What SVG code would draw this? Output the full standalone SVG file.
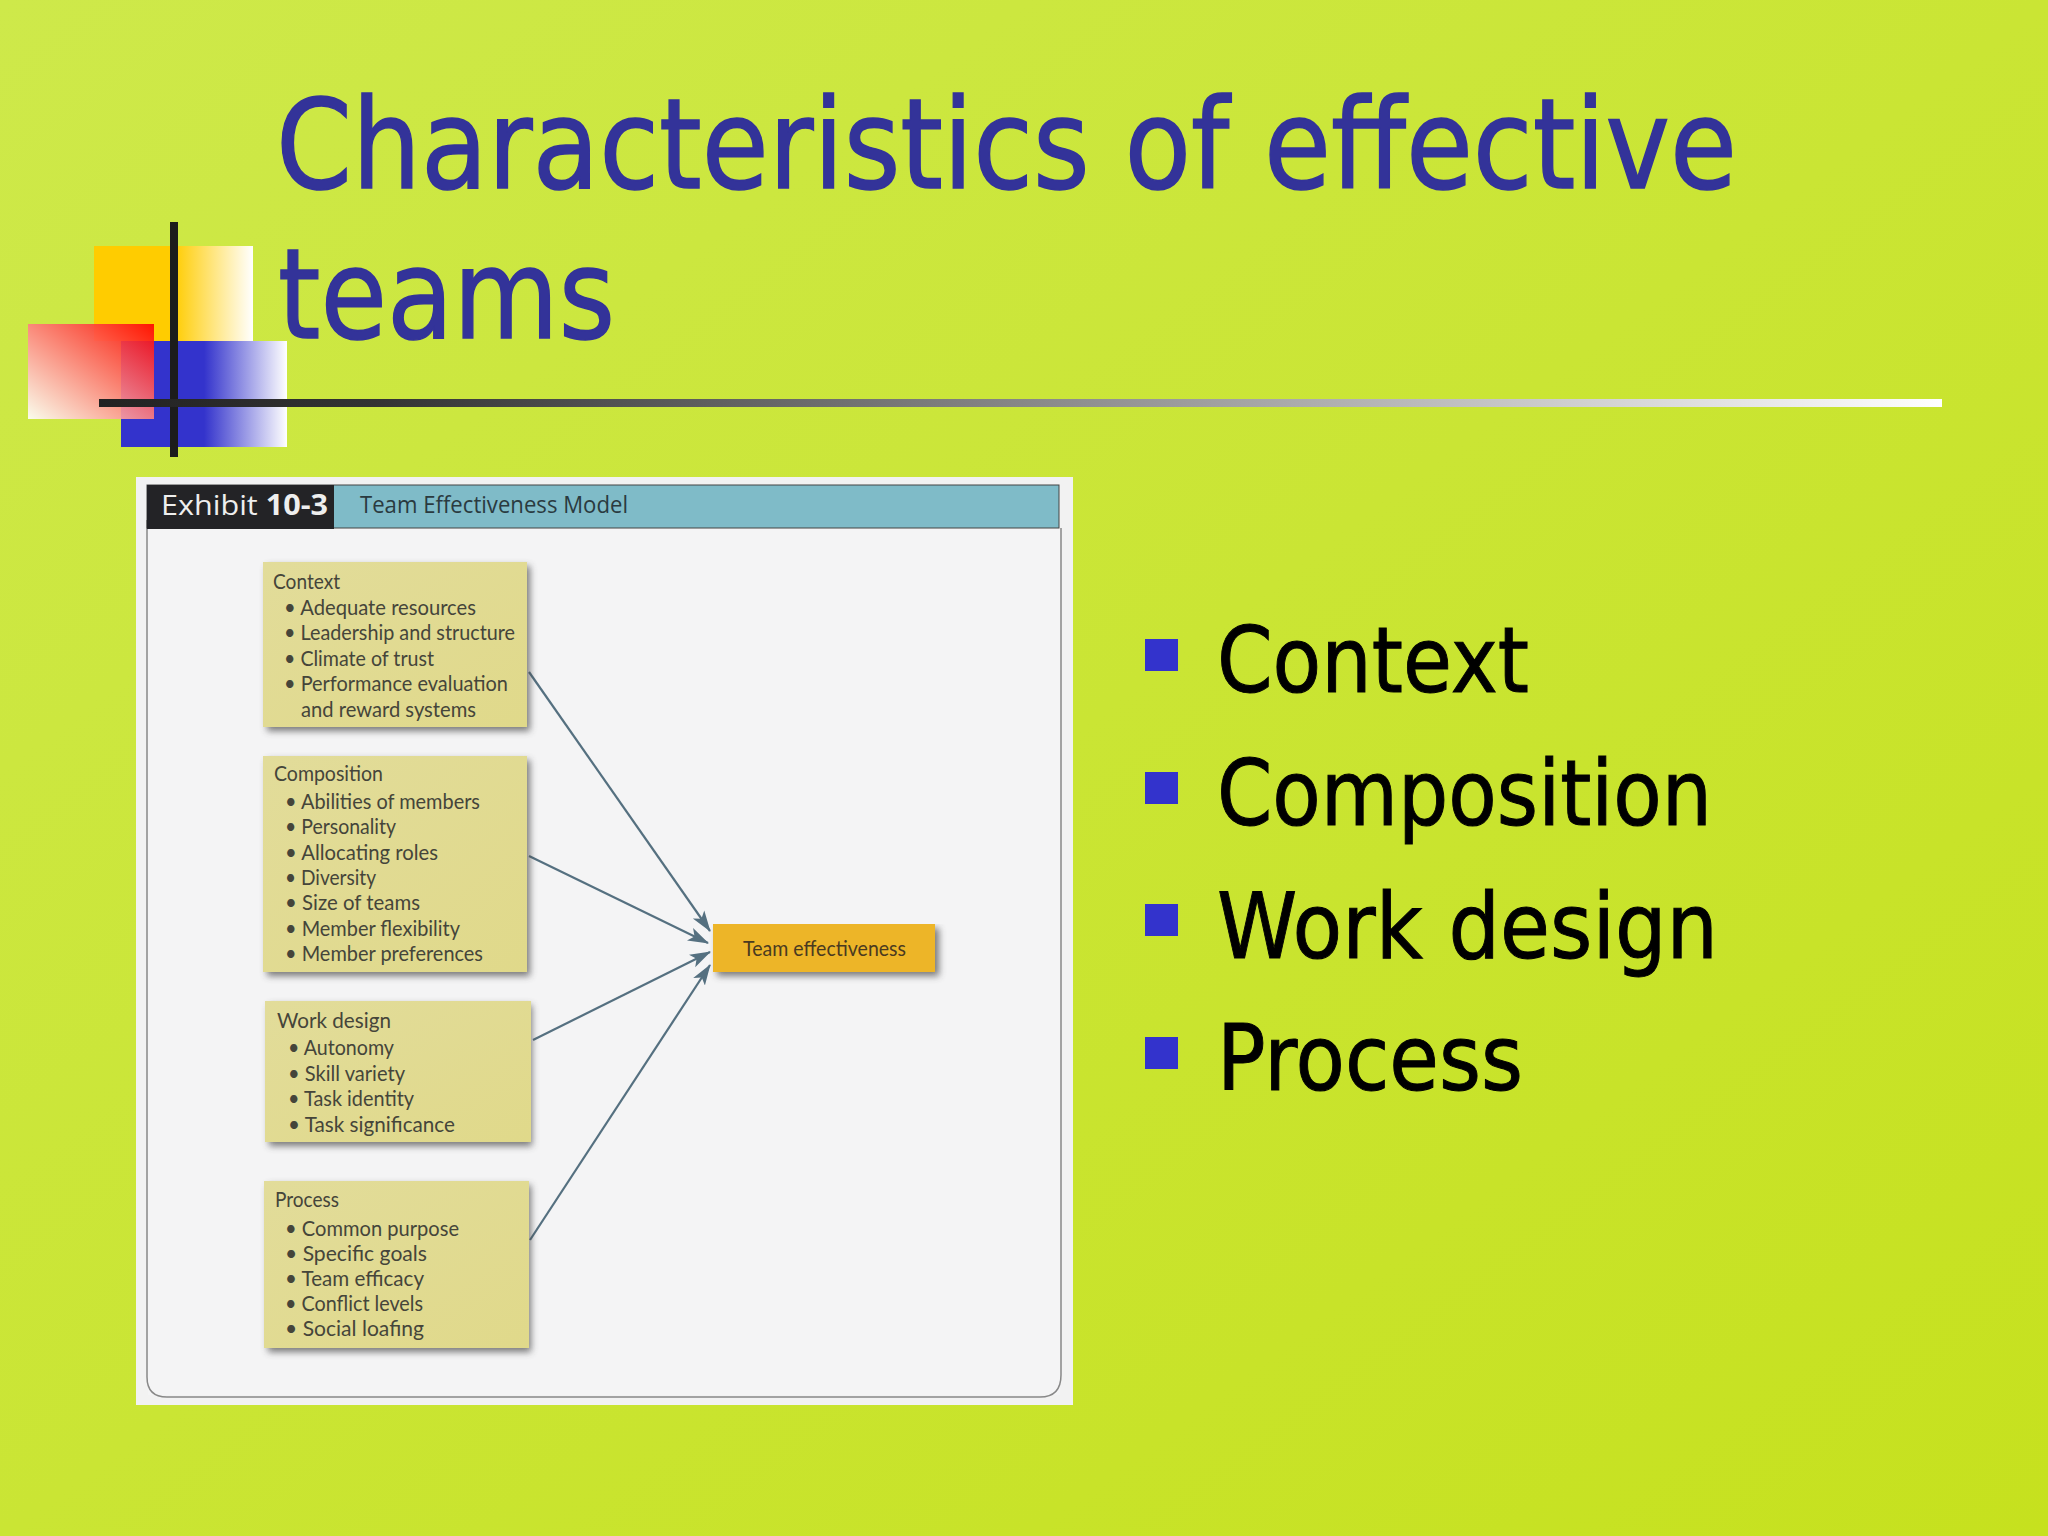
<svg xmlns="http://www.w3.org/2000/svg" width="2048" height="1536" viewBox="0 0 2048 1536">
<defs>
<linearGradient id="bg" x1="0" y1="0" x2="1" y2="1"><stop offset="0" stop-color="#cee94a"/><stop offset="1" stop-color="#c6e11e"/></linearGradient>
<linearGradient id="yl" x1="0" x2="1" y1="0" y2="0"><stop offset="0" stop-color="#ffcc00"/><stop offset=".5" stop-color="#ffcc00"/><stop offset="1" stop-color="#fff"/></linearGradient>
<linearGradient id="bl" x1="0" x2="1" y1="0" y2="0"><stop offset="0" stop-color="#3333cc"/><stop offset=".5" stop-color="#3333cc"/><stop offset="1" stop-color="#fff"/></linearGradient>
<linearGradient id="rd" x1="1" y1="0" x2="0" y2="1"><stop offset="0" stop-color="#ff0000"/><stop offset="1" stop-color="#fff"/></linearGradient>
<linearGradient id="ln" x1="0" x2="1" y1="0" y2="0"><stop offset="0" stop-color="#222"/><stop offset=".15" stop-color="#333"/><stop offset="1" stop-color="#fff"/></linearGradient>
<linearGradient id="by" x1="0" x2="1" y1="0" y2="1"><stop offset="0" stop-color="#e2dc9a"/><stop offset="1" stop-color="#e0d98a"/></linearGradient>
<filter id="sh" x="-8%" y="-8%" width="116%" height="125%"><feGaussianBlur stdDeviation="3.5"/></filter>
<marker id="ah" markerWidth="22" markerHeight="16" refX="20" refY="8" orient="auto" markerUnits="userSpaceOnUse"><path d="M0 1L21 8L0 15L5 8Z" fill="#557080"/></marker>
</defs>
<style>
.h{font-family:"DejaVu Sans","Noto Sans",sans-serif;fill:#333399;stroke:#333399;stroke-width:1.5;font-size:124px}
.b{font-family:"DejaVu Sans","Noto Sans",sans-serif;fill:#000;stroke:#000;stroke-width:1;font-size:91px}
.n{font-family:"Lato","Open Sans",sans-serif;fill:#45453a;font-size:22px}
.box{fill:url(#by)}
.sd{fill:#444;opacity:.7;filter:url(#sh)}
.c{stroke:#557080;stroke-width:2.2;fill:none;marker-end:url(#ah)}
.sq{fill:#3333cc}
</style>
<rect width="2048" height="1536" fill="url(#bg)"/>
<g id="decor">
<rect x="94" y="246" width="159" height="95" fill="url(#yl)"/>
<rect x="121" y="341" width="166" height="106" fill="url(#bl)"/>
<rect x="28" y="324" width="126" height="95" fill="url(#rd)" opacity=".9"/>
<rect x="170" y="222" width="8" height="235" fill="#1c1c1c"/>
<rect x="99" y="399" width="1843" height="8" fill="url(#ln)"/>
</g>
<text class="h" x="276" y="188" textLength="1461" lengthAdjust="spacingAndGlyphs">Characteristics of effective</text>
<text class="h" x="278" y="338" textLength="337" lengthAdjust="spacingAndGlyphs">teams</text>
<g id="exhibit">
<rect x="136" y="477" width="937" height="928" fill="#f2f2f2"/>
<rect x="148" y="529" width="912" height="866" fill="#f4f4f5"/>
<path d="M147 520V1377Q147 1397 167 1397H1040Q1061 1397 1061 1375V528" fill="none" stroke="#888" stroke-width="1.5"/>
<rect x="147" y="485" width="912" height="43" fill="#7fbbc8" stroke="#444" stroke-width="1"/>
<rect x="147" y="485" width="187" height="44" fill="#232326"/>
<text x="161" y="515" font-family="Open Sans,sans-serif" font-size="28" fill="#eee" textLength="167" lengthAdjust="spacingAndGlyphs">Exhibit <tspan font-weight="700">10-3</tspan></text>
<text x="360" y="513" font-family="Open Sans,sans-serif" font-size="24" fill="#2a3a40" textLength="268" lengthAdjust="spacingAndGlyphs">Team Effectiveness Model</text>
</g>
<g id="connectors">
<line class="c" x1="529" y1="672" x2="710" y2="931"/>
<line class="c" x1="529" y1="856" x2="708" y2="943"/>
<line class="c" x1="533" y1="1040" x2="710" y2="952"/>
<line class="c" x1="530" y1="1240" x2="710" y2="965"/>
</g>
<g id="node-context">
<rect class="sd" x="267" y="566" width="263" height="165"/><rect class="box" x="263" y="562" width="264" height="165"/>
<text class="n" x="273" y="589" textLength="67" lengthAdjust="spacingAndGlyphs">Context</text>
<text class="n" x="284" y="615" textLength="192" lengthAdjust="spacingAndGlyphs">• Adequate resources</text>
<text class="n" x="284" y="640" textLength="231" lengthAdjust="spacingAndGlyphs">• Leadership and structure</text>
<text class="n" x="284" y="666" textLength="150" lengthAdjust="spacingAndGlyphs">• Climate of trust</text>
<text class="n" x="284" y="691" textLength="224" lengthAdjust="spacingAndGlyphs">• Performance evaluation</text>
<text class="n" x="301" y="717" textLength="175" lengthAdjust="spacingAndGlyphs">and reward systems</text>
</g>
<g id="node-composition">
<rect class="sd" x="267" y="760" width="263" height="216"/><rect class="box" x="263" y="756" width="264" height="216"/>
<text class="n" x="274" y="781" textLength="109" lengthAdjust="spacingAndGlyphs">Composition</text>
<text class="n" x="285" y="809" textLength="195" lengthAdjust="spacingAndGlyphs">• Abilities of members</text>
<text class="n" x="285" y="834" textLength="111" lengthAdjust="spacingAndGlyphs">• Personality</text>
<text class="n" x="285" y="860" textLength="153" lengthAdjust="spacingAndGlyphs">• Allocating roles</text>
<text class="n" x="285" y="885" textLength="91" lengthAdjust="spacingAndGlyphs">• Diversity</text>
<text class="n" x="285" y="910" textLength="135" lengthAdjust="spacingAndGlyphs">• Size of teams</text>
<text class="n" x="285" y="936" textLength="175" lengthAdjust="spacingAndGlyphs">• Member flexibility</text>
<text class="n" x="285" y="961" textLength="198" lengthAdjust="spacingAndGlyphs">• Member preferences</text>
</g>
<g id="node-work-design">
<rect class="sd" x="269" y="1005" width="263" height="141"/><rect class="box" x="265" y="1001" width="266" height="141"/>
<text class="n" x="277" y="1028" textLength="114" lengthAdjust="spacingAndGlyphs">Work design</text>
<text class="n" x="288" y="1055" textLength="106" lengthAdjust="spacingAndGlyphs">• Autonomy</text>
<text class="n" x="288" y="1081" textLength="117" lengthAdjust="spacingAndGlyphs">• Skill variety</text>
<text class="n" x="288" y="1106" textLength="126" lengthAdjust="spacingAndGlyphs">• Task identity</text>
<text class="n" x="288" y="1132" textLength="167" lengthAdjust="spacingAndGlyphs">• Task significance</text>
</g>
<g id="node-process">
<rect class="sd" x="268" y="1185" width="263" height="167"/><rect class="box" x="264" y="1181" width="265" height="167"/>
<text class="n" x="275" y="1207" textLength="64" lengthAdjust="spacingAndGlyphs">Process</text>
<text class="n" x="285" y="1236" textLength="174" lengthAdjust="spacingAndGlyphs">• Common purpose</text>
<text class="n" x="285" y="1261" textLength="142" lengthAdjust="spacingAndGlyphs">• Specific goals</text>
<text class="n" x="285" y="1286" textLength="139" lengthAdjust="spacingAndGlyphs">• Team efficacy</text>
<text class="n" x="285" y="1311" textLength="138" lengthAdjust="spacingAndGlyphs">• Conflict levels</text>
<text class="n" x="285" y="1336" textLength="139" lengthAdjust="spacingAndGlyphs">• Social loafing</text>
</g>
<g id="node-team-effectiveness">
<rect class="sd" x="717" y="928" width="222" height="48"/><rect style="fill:#edb528" x="713" y="924" width="222" height="48"/>
<text class="n" style="fill:#4a3a20" x="743" y="956" textLength="163" lengthAdjust="spacingAndGlyphs">Team effectiveness</text>
</g>
<g id="bullets">
<rect class="sq" x="1145" y="639" width="33" height="32"/>
<rect class="sq" x="1145" y="772" width="33" height="32"/>
<rect class="sq" x="1145" y="904" width="33" height="32"/>
<rect class="sq" x="1145" y="1037" width="33" height="32"/>
<text class="b" x="1217" y="692" textLength="312" lengthAdjust="spacingAndGlyphs">Context</text>
<text class="b" x="1217" y="825" textLength="495" lengthAdjust="spacingAndGlyphs">Composition</text>
<text class="b" x="1217" y="958" textLength="501" lengthAdjust="spacingAndGlyphs">Work design</text>
<text class="b" x="1217" y="1090" textLength="306" lengthAdjust="spacingAndGlyphs">Process</text>
</g>
</svg>
